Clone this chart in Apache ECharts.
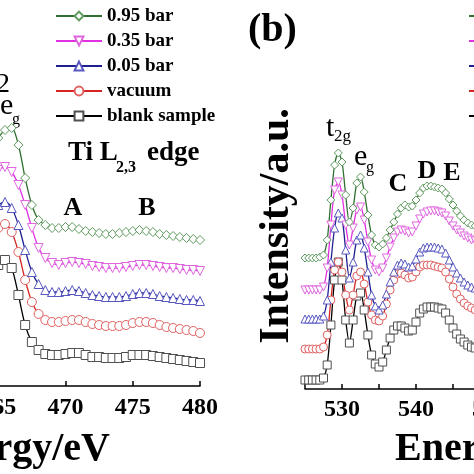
<!DOCTYPE html>
<html>
<head>
<meta charset="utf-8">
<script src="https://cdn.jsdelivr.net/npm/echarts@6/dist/echarts.min.js"></script>
<style>
html, body { margin: 0; padding: 0; background: #fff; }
#main { width: 474px; height: 474px; }
</style>
</head>
<body>
<div id="main"></div>
<script>
var names = ['0.95 bar', '0.35 bar', '0.05 bar', 'vacuum', 'blank sample'];

// (a) Ti L2,3 edge, energies in eV
var energyTi = [464.5, 465, 465.5, 466, 466.5, 467, 467.5, 468, 468.5, 469, 469.5, 470, 470.5, 471, 471.5, 472,
    472.5, 473, 473.5, 474, 474.5, 475, 475.5, 476, 476.5, 477, 477.5, 478, 478.5, 479, 479.5, 480];
var ti095 = [236, 248, 256, 258, 241, 208, 181, 166, 161, 158, 158, 159, 159, 157, 155, 154, 153, 152, 152, 153, 154, 155, 156, 155, 154, 152, 151, 150, 149, 148, 147, 146];
var ti035 = [208, 216, 219, 214, 201, 181, 158, 138, 128, 123, 121, 123, 124, 123, 122, 120, 119, 118, 118, 118, 119, 120, 121, 121, 120, 119, 118, 118, 117, 116, 116, 115];
var ti005 = [174, 181, 184, 178, 161, 136, 114, 102, 96, 94, 94, 95, 96, 95, 93, 91, 90, 89, 89, 89, 90, 92, 93, 93, 92, 90, 89, 88, 87, 86, 86, 85];
var tiVac = [148, 158, 162, 154, 134, 106, 84, 72, 66, 64, 64, 65, 66, 66, 64, 62, 61, 60, 60, 60, 61, 63, 64, 64, 63, 61, 59, 58, 57, 56, 55, 53];
var tiBlank = [111, 121, 126, 118, 91, 61, 44, 36, 32, 31, 31, 32, 33, 33, 31, 29, 29, 28, 28, 28, 29, 31, 31, 31, 30, 29, 28, 27, 26, 25, 24, 23];

// (b) O K edge
var energyO = [525, 525.5, 526, 526.5, 527, 527.5, 528, 528.5, 529, 529.5, 530, 530.5, 531, 531.5, 532, 532.5,
    533, 533.5, 534, 534.5, 535, 535.5, 536, 536.5, 537, 537.5, 538, 538.5, 539, 539.5, 540, 540.5,
    541, 541.5, 542, 542.5, 543, 543.5, 544, 544.5, 545, 545.5, 546, 546.5, 547, 547.5, 548];
var o095 = [131, 131, 131, 131, 132, 134, 149, 189, 224, 236, 227, 194, 167, 181, 206, 212, 197, 174, 154, 144,
    142, 145, 151, 159, 167, 175, 181, 184, 182, 183, 189, 196, 201, 203, 203, 202, 201, 200, 196, 190,
    184, 178, 173, 169, 166, 164, 163];
var o035 = [99, 99, 99, 99, 99, 102, 121, 164, 199, 207, 194, 164, 144, 161, 179, 182, 169, 147, 129, 119,
    117, 121, 131, 142, 151, 157, 159, 158, 156, 157, 163, 170, 175, 177, 178, 178, 177, 176, 173, 168,
    163, 159, 156, 153, 151, 149, 148];
var o005 = [70, 70, 70, 70, 70, 73, 89, 127, 161, 176, 171, 139, 111, 127, 149, 154, 141, 117, 94, 83,
    79, 84, 95, 107, 117, 124, 126, 125, 122, 123, 130, 137, 141, 142, 142, 142, 141, 140, 136, 129,
    122, 116, 111, 107, 104, 102, 101];
var oVac = [40, 40, 40, 40, 40, 42, 54, 89, 119, 127, 117, 94, 79, 94, 113, 117, 105, 87, 74, 69,
    68, 73, 85, 99, 109, 115, 116, 114, 111, 112, 117, 122, 124, 124, 124, 123, 122, 121, 117, 110,
    102, 95, 90, 86, 83, 81, 79];
var oBlank = [9, 9, 9, 9, 9, 11, 24, 64, 109, 127, 109, 69, 46, 69, 93, 96, 79, 54, 34, 25,
    22, 27, 39, 51, 59, 63, 63, 61, 58, 59, 67, 76, 80, 82, 82, 82, 81, 80, 76, 69,
    61, 55, 50, 47, 44, 42, 41];

var lineColors = ['#2f6f2f', '#e030e0', '#1e1e90', '#d42424', '#000000'];
var markColors = ['#5e9a5e', '#e066e0', '#5858c0', '#e06060', '#505050'];
var symbols = ['diamond', 'triangle', 'triangle', 'circle', 'rect'];
var rotations = [0, 180, 0, 0, 0];

var font = '"Liberation Serif", "Times New Roman", serif';

function makeSeries(k, axis, energy, values, size) {
    return {
        name: names[k],
        type: 'line',
        xAxisIndex: axis,
        yAxisIndex: axis,
        data: energy.map(function (e, i) { return [e, values[i]]; }),
        smooth: 0.3,
        symbol: symbols[k],
        symbolSize: size,
        symbolRotate: rotations[k],
        showAllSymbol: true,
        lineStyle: { color: lineColors[k], width: 1.3 },
        itemStyle: { color: '#fff', borderColor: markColors[k], borderWidth: 1 }
    };
}

var tiData = [ti095, ti035, ti005, tiVac, tiBlank];
var oData = [o095, o035, o005, oVac, oBlank];
var series = [];
for (var k = 4; k >= 0; k--) {
    series.push(makeSeries(k, 0, energyTi, tiData[k], 9));
    series.push(makeSeries(k, 1, energyO, oData[k], 8));
}

function txt(text, x, y, size, opts) {
    opts = opts || {};
    return {
        type: 'text',
        x: x,
        y: y,
        rotation: opts.rot || 0,
        style: {
            text: text,
            font: (opts.normal ? '' : 'bold ') + size + 'px ' + font,
            fill: '#000',
            align: opts.align || 'left',
            textAlign: opts.align || 'left',
            verticalAlign: 'middle',
            textVerticalAlign: 'middle'
        }
    };
}

var legendBase = {
    orient: 'vertical',
    top: 1,
    itemWidth: 46,
    itemHeight: 11,
    itemGap: 5,
    data: names,
    textStyle: { fontFamily: font, fontWeight: 'bold', fontSize: 19, color: '#000', lineHeight: 20 }
};

var xAxisBase = {
    type: 'value',
    interval: 5,
    axisLine: { lineStyle: { color: '#000', width: 1.5 } },
    axisTick: { inside: true, length: 5, lineStyle: { color: '#000', width: 1.5 } },
    axisLabel: { margin: 10, fontFamily: font, fontWeight: 'bold', fontSize: 24, color: '#000' },
    splitLine: { show: false }
};

var myChart = echarts.init(document.getElementById('main'));
var option = {
    animation: false,
    backgroundColor: '#fff',
    grid: [
        { left: -69, width: 269, top: 36, height: 350, outerBoundsMode: 'none', containLabel: false },
        { left: 305, width: 185, top: 39, height: 350, outerBoundsMode: 'none', containLabel: false }
    ],
    xAxis: [
        Object.assign({}, xAxisBase, { gridIndex: 0, min: 460, max: 480 }),
        Object.assign({}, xAxisBase, {
            gridIndex: 1, min: 525, max: 550,
            axisLabel: Object.assign({}, xAxisBase.axisLabel, {
                margin: 9,
                formatter: function (v) { return v % 10 === 0 ? String(v) : ''; }
            })
        })
    ],
    yAxis: [
        { type: 'value', gridIndex: 0, min: 0, max: 350, show: false },
        { type: 'value', gridIndex: 1, min: 0, max: 350, show: false }
    ],
    legend: [
        Object.assign({}, legendBase, { left: 50 }),
        Object.assign({}, legendBase, { left: 463 })
    ],
    graphic: [
        txt('Energy/eV', 110, 450, 40, { align: 'right' }),
        txt('Energy/eV', 395, 450, 40),
        txt('Intensity/a.u.', 277, 226, 42, { align: 'center', rot: Math.PI / 2 }),
        txt('(b)', 248, 31, 40),
        txt('Ti L', 68, 153, 27),
        txt('2,3', 116, 168, 16),
        txt('edge', 147, 153, 27),
        txt('A', 73, 208, 26, { align: 'center' }),
        txt('B', 147, 208, 26, { align: 'center' }),
        txt('L2', 10, 85, 28, { align: 'right', normal: true }),
        txt('e', 0, 106, 30, { normal: true }),
        txt('g', 12, 120, 16, { normal: true }),
        txt('t', 326, 128, 30, { normal: true }),
        txt('2g', 334, 137, 17, { normal: true }),
        txt('e', 354, 157, 30, { normal: true }),
        txt('g', 366, 168, 16, { normal: true }),
        txt('C', 398, 184, 26, { align: 'center' }),
        txt('D', 427, 171, 26, { align: 'center' }),
        txt('E', 452, 173, 26, { align: 'center' })
    ],
    series: series
};
myChart.setOption(option);
</script>
</body>
</html>
